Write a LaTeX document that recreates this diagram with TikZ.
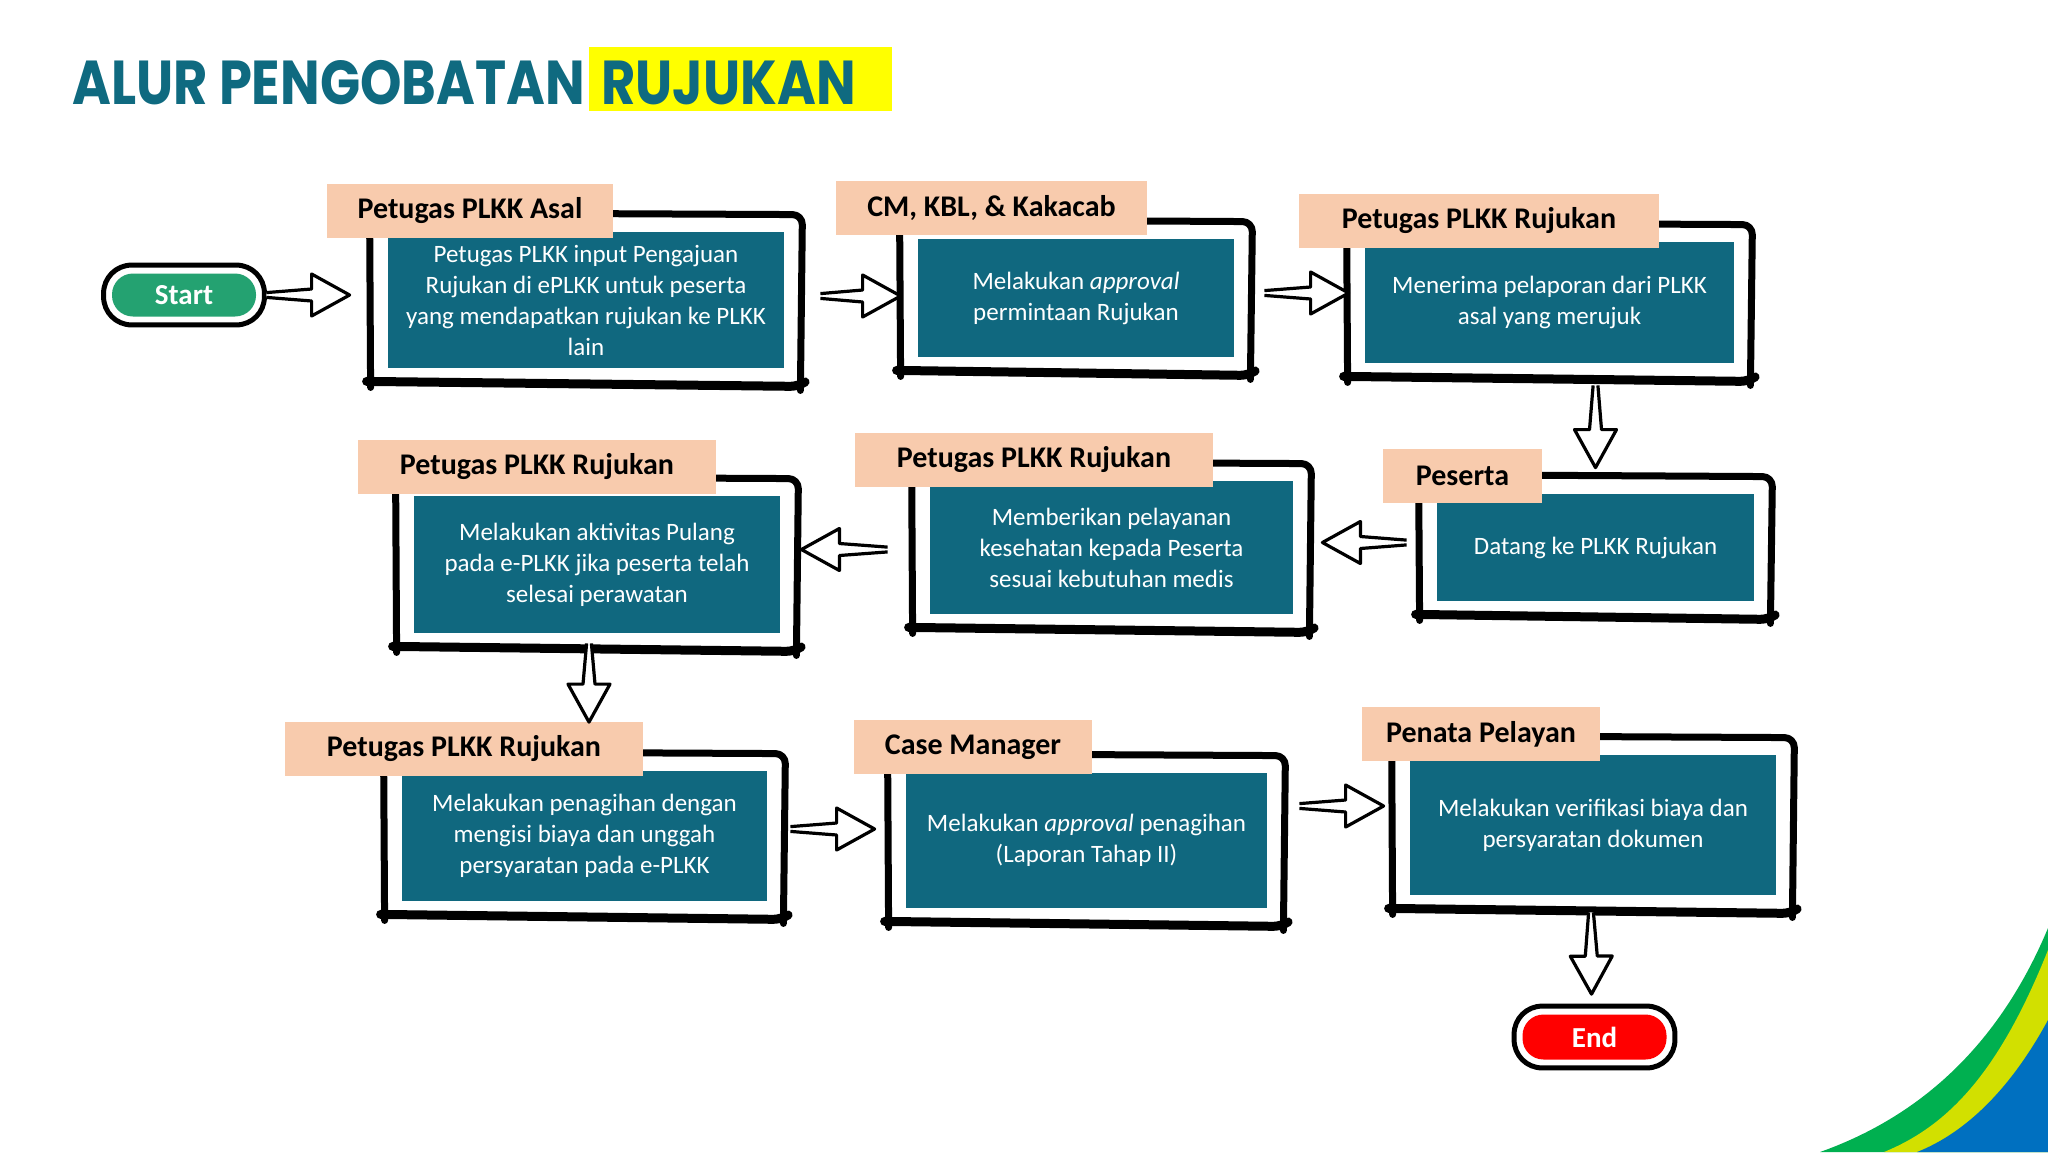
\documentclass[tikz,border=0pt]{standalone}
\usepackage{fontspec}
\setmainfont{Carlito}
\newfontfamily\titlefont{Poppins}
\usetikzlibrary{calc}
\definecolor{tealbox}{HTML}{10687F}
\definecolor{peach}{HTML}{F8CBAD}
\definecolor{startgreen}{HTML}{24A271}
\definecolor{endred}{HTML}{FF0000}
\definecolor{titleteal}{HTML}{0F6A80}
\definecolor{hlyellow}{HTML}{FFFF00}
\definecolor{cgreen}{HTML}{00B050}
\definecolor{cyellow}{HTML}{D2E000}
\definecolor{cblue}{HTML}{0070C0}

\newcommand\blockarrow[2]{%
 \draw[blockarr] ($(#1)!1.2pt!90:(#2)$) -- ($(#2)!19pt!(#1)!3pt!-90:(#1)$) -- ($(#2)!19pt!(#1)!10.5pt!-90:(#1)$) -- (#2) -- ($(#2)!19pt!(#1)!10.5pt!90:(#1)$) -- ($(#2)!19pt!(#1)!3pt!90:(#1)$) -- ($(#1)!1.2pt!-90:(#2)$);
}
\newcommand\sketchframe[1]{%
 \draw[frameline, rounded corners=5pt] ($(#1.north west)+(-14,-19)$) -- ($(#1.north east)+(18,-17)$) -- ($(#1.south east)+(16,22)$);
 \draw[frameline, line width=4.5pt, rounded corners=4pt] ($(#1.south east)+(20,14)$) -- ($(#1.south east)+(14,18)$) -- ($(#1.south west)+(-21,13)$);
 \draw[frameline] ($(#1.south west)+(-17,19)$) -- ($(#1.north west)+(-18,-18)$);
}
\tikzset{
 box/.style={fill=tealbox, text=white, align=center, font=\fontsize{12.5}{15.5}\selectfont, inner sep=0pt},
 lab/.style={fill=peach, text=black, font=\bfseries\fontsize{15}{18}\selectfont, minimum height=27pt, inner sep=0pt},
 frameline/.style={line width=3.5pt, line cap=round, line join=round, draw=black},
 blockarr/.style={draw=black, fill=white, line width=1.6pt, line join=round},
 pill/.style={text=white, font=\bfseries\fontsize{14.5}{17}\selectfont, rounded corners=10.5pt, minimum width=72pt, minimum height=21.5pt, inner sep=0pt},
 ring/.style={draw=black, line width=2.5pt, rounded corners=14pt},
 titletext/.style={anchor=base west, text=titleteal, font=\titlefont\bfseries\fontsize{31}{31}\selectfont, inner sep=0pt},
}
\begin{document}
\begin{tikzpicture}[x=0.5pt,y=-0.5pt]
\useasboundingbox (0,0) rectangle (2048,1152);
\fill[white] (0,0) rectangle (2048,1152);

% corner decoration
\fill[cgreen] (2048,928) .. controls (1995,1055) and (1910,1120) .. (1820,1152) -- (2048,1152) -- cycle;
\fill[cyellow] (2048,950) .. controls (2000,1070) and (1950,1125) .. (1884,1152) -- (2048,1152) -- cycle;
\fill[cblue] (2048,1020) .. controls (2010,1090) and (1965,1133) .. (1917,1152) -- (2048,1152) -- cycle;

% title
\fill[hlyellow] (589,47) rectangle (892,111);
\node[titletext] (t1) at (72,104) {\scalebox{0.85}[1]{ALUR PENGOBATAN}};
\node[titletext] (t2) at (601,104) {\scalebox{0.85}[1]{RUJUKAN}};

% teal boxes
\node[box, minimum width=198pt, minimum height=68pt] (b1) at (586,300) {Petugas PLKK input Pengajuan\\Rujukan di ePLKK untuk peserta\\yang mendapatkan rujukan ke PLKK\\lain};
\node[box, minimum width=158pt, minimum height=59pt] (b2) at (1076,298) {Melakukan \textit{approval}\\permintaan Rujukan};
\node[box, minimum width=184.5pt, minimum height=60.5pt] (b3) at (1549.5,302.5) {Menerima pelaporan dari PLKK\\asal yang merujuk};
\node[box, minimum width=158.5pt, minimum height=53.5pt] (b4) at (1595.5,547.5) {Datang ke PLKK Rujukan};
\node[box, minimum width=181.5pt, minimum height=66.5pt] (b5) at (1111.5,547.5) {Memberikan pelayanan\\kesehatan kepada Peserta\\sesuai kebutuhan medis};
\node[box, minimum width=183pt, minimum height=68.5pt] (b6) at (597,564.5) {Melakukan aktivitas Pulang\\pada e-PLKK jika peserta telah\\selesai perawatan};
\node[box, minimum width=182.5pt, minimum height=65pt] (b7) at (584.5,836) {Melakukan penagihan dengan\\mengisi biaya dan unggah\\persyaratan pada e-PLKK};
\node[box, minimum width=180.5pt, minimum height=67.5pt] (b8) at (1086.5,840.5) {Melakukan \textit{approval} penagihan\\(Laporan Tahap II)};
\node[box, minimum width=183pt, minimum height=70pt] (b9) at (1593,825) {Melakukan verifikasi biaya dan\\persyaratan dokumen};

% frames
\sketchframe{b1}\sketchframe{b2}\sketchframe{b3}
\sketchframe{b4}\sketchframe{b5}\sketchframe{b6}
\sketchframe{b7}\sketchframe{b8}\sketchframe{b9}

% labels
\node[lab, minimum width=143pt] (l1) at (470,211) {Petugas PLKK Asal};
\node[lab, minimum width=155.5pt] (l2) at (991.5,207.5) {CM, KBL, \& Kakacab};
\node[lab, minimum width=180pt] (l3) at (1479,220.5) {Petugas PLKK Rujukan};
\node[lab, minimum width=79.5pt] (l4) at (1462.5,475.5) {Peserta};
\node[lab, minimum width=179pt] (l5) at (1034,459.5) {Petugas PLKK Rujukan};
\node[lab, minimum width=179pt] (l6) at (537,466.5) {Petugas PLKK Rujukan};
\node[lab, minimum width=179pt] (l7) at (464,748.5) {Petugas PLKK Rujukan};
\node[lab, minimum width=119pt] (l8) at (973,747) {Case Manager};
\node[lab, minimum width=119pt] (l9) at (1481,734) {Penata Pelayan};

% start / end
\node[pill, fill=startgreen] (start) at (184,295) {Start};
\draw[ring] ($(start.north west)+(-8,-8)$) rectangle ($(start.south east)+(8,8)$);
\node[pill, fill=endred, minimum height=22.5pt] (end) at (1594.5,1037) {End};
\draw[ring] ($(end.north west)+(-8,-8)$) rectangle ($(end.south east)+(8,8)$);

% connectors
\coordinate (a1s) at ($(start.east)+(10,0)$);
\coordinate (a1e) at ($(start.east -| b1.west)+(-38,0)$);
\coordinate (a2s) at ($(b1.east)+(36,-4)$);
\coordinate (a2e) at ($(b1.east -| b2.west)+(-17,-4)$);
\coordinate (a3s) at ($(b2.east)+(30,-5)$);
\coordinate (a3e) at ($(b2.east -| b3.west)+(-16,-5)$);
\coordinate (a4s) at ($(b4.north |- b3.south)+(0,22)$);
\coordinate (a4e) at ($(b4.north)+(0,-26)$);
\coordinate (a5s) at ($(b4.west)+(-30,-5)$);
\coordinate (a5e) at ($(b4.west -| b5.east)+(29,-5)$);
\coordinate (a6s) at ($(b5.west)+(-42,2)$);
\coordinate (a6e) at ($(b5.west -| b6.east)+(21,2)$);
\coordinate (a7s) at ($(b6.south)+(-8,10)$);
\coordinate (a7e) at ($(b6.south |- l7.north)+(-8,1)$);
\coordinate (a8s) at ($(b7.east)+(23,-7)$);
\coordinate (a8e) at ($(b7.east -| b8.west)+(-31,-7)$);
\coordinate (a9s) at ($(b9.west -| b8.east)+(32,-19)$);
\coordinate (a9e) at ($(b9.west)+(-26,-19)$);
\coordinate (a10s) at ($(b9.south)+(-2,17)$);
\coordinate (a10e) at ($(end.north)+(-3,-20)$);
\blockarrow{a1s}{a1e}
\blockarrow{a2s}{a2e}
\blockarrow{a3s}{a3e}
\blockarrow{a4s}{a4e}
\blockarrow{a5s}{a5e}
\blockarrow{a6s}{a6e}
\blockarrow{a7s}{a7e}
\blockarrow{a8s}{a8e}
\blockarrow{a9s}{a9e}
\blockarrow{a10s}{a10e}
\end{tikzpicture}
\end{document}
